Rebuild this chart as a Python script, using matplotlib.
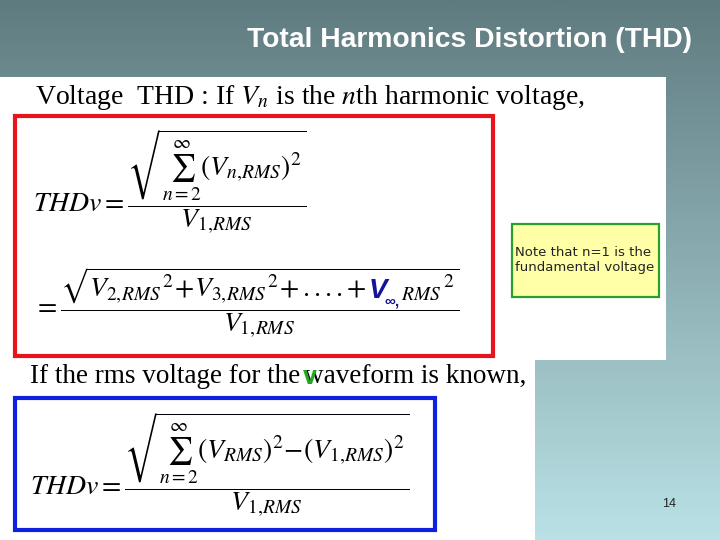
import matplotlib
matplotlib.use("Agg")
import matplotlib.pyplot as plt
from matplotlib.patches import Rectangle
import numpy as np

plt.rcParams["mathtext.fontset"] = "stix"

# slide texts
title = "Total Harmonics Distortion (THD)"
intro = r"Voltage  THD : If $V_n$ is the $n$th harmonic voltage,"
rms_left = "If the rms voltage for the"
rms_right = "waveform is known,"
note = "Note that n=1 is the\nfundamental voltage"
page = "14"

eq1 = r"$THDv=\dfrac{\sqrt{\sum_{n=2}^{\infty}(V_{n,\!RMS})^2}}{V_{1,\!RMS}}$"
eq2_head = r"{V_{2,\!RMS}}^{\,2}\!+\!{V_{3,\!RMS}}^{\,2}\!+....\!+"
eq2 = (r"$=\dfrac{\sqrt{" + eq2_head + r"\quad\;\;{{}_{RMS}}^{\,2}}}{V_{1,\!RMS}}$")
eq2_prefix = r"$=\dfrac{\sqrt{" + eq2_head + r"}}{V_{1,\!RMS}}$"
eq3 = (r"$THDv=\dfrac{\sqrt{\sum_{n=2}^{\infty}(V_{RMS})^2\!-\!(V_{1,\!RMS})^2}}"
       r"{V_{1,\!RMS}}$")

# background gradient colours (top, bottom)
bg_top = np.array([0x5f, 0x7b, 0x80]) / 255
bg_bot = np.array([0xba, 0xe2, 0xe6]) / 255

fig = plt.figure(figsize=(7.2, 5.4), dpi=100)
ax = fig.add_axes([0, 0, 1, 1])
ax.set_xlim(0, 720)
ax.set_ylim(540, 0)
ax.axis("off")

t = np.linspace(0, 1, 256)[:, None, None]
grad = bg_top * (1 - t) + bg_bot * t
ax.imshow(grad, extent=[0, 720, 540, 0], aspect="auto", zorder=0)

# white content areas
ax.add_patch(Rectangle((0, 77), 666, 283, color="white", zorder=1, lw=0))
ax.add_patch(Rectangle((0, 355), 535, 185, color="white", zorder=1, lw=0))

# framed boxes
ax.add_patch(Rectangle((15, 116), 478, 240, fill=False, ec="#e8141c", lw=3, zorder=3))
ax.add_patch(Rectangle((15, 398), 420, 132, fill=False, ec="#1020e0", lw=3, zorder=3))
ax.add_patch(Rectangle((512, 224), 147, 73, fc="#ffffa8", ec="#2aa02a", lw=1.6, zorder=3))

ax.text(692, 40, title, color="white", fontsize=20.3, fontweight="bold",
        family="Liberation Sans", ha="right", va="center", zorder=4)
ax.text(35, 104, intro, fontsize=20, family="Liberation Serif",
        ha="left", va="baseline", zorder=4)

EQ_FS = 20
ax.text(33, 182, eq1, fontsize=EQ_FS, ha="left", va="center", zorder=4)
ax.text(33, 303, eq2, fontsize=EQ_FS, ha="left", va="center", zorder=4)

# find where the blue V belongs inside eq2
fig.canvas.draw()
renderer = fig.canvas.get_renderer()
probe = ax.text(33, 303, eq2_prefix, fontsize=EQ_FS, ha="left", va="center", alpha=0)
bb = probe.get_window_extent(renderer)
vx = ax.transData.inverted().transform((bb.x1, bb.y0))[0]
probe.remove()

ax.text(vx - 7, 298, "V", fontsize=20, color="#14149a", fontweight="bold", style="italic",
        family="Liberation Sans", ha="left", va="baseline", zorder=5)
ax.text(vx + 9, 306, "\u221e,", fontsize=11, color="#14149a", fontweight="bold",
        family=["Liberation Sans", "DejaVu Sans"], ha="left", va="baseline", zorder=5)

ax.text(30, 383, rms_left, fontsize=19.5, family="Liberation Serif",
        ha="left", va="baseline", zorder=4)
ax.text(304, 383, rms_right, fontsize=19.5, family="Liberation Serif",
        ha="left", va="baseline", zorder=4)
ax.text(303, 384, "v", fontsize=18, color="#22a822", fontweight="bold",
        family="Liberation Sans", ha="left", va="baseline", zorder=5)

ax.text(30, 465, eq3, fontsize=EQ_FS, ha="left", va="center", zorder=4)

ax.text(515, 260, note, fontsize=9.5, family="DejaVu Sans", color="#222222",
        ha="left", va="center", linespacing=1.25, zorder=4)
ax.text(669, 504, page, fontsize=9, family="Liberation Sans", color="#222222",
        ha="center", va="center", zorder=4)

fig.savefig("out.png", dpi=100)
